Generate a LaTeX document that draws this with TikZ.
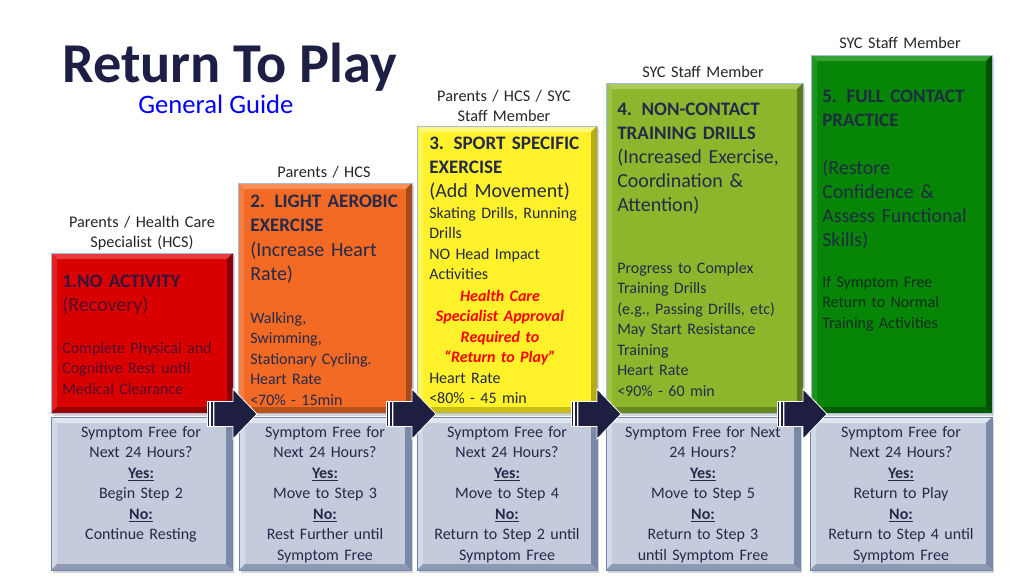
\documentclass[tikz,border=0pt]{standalone}
\usepackage{fontspec}
\setmainfont{Carlito}
\definecolor{txt}{HTML}{262A4A}
\definecolor{titlec}{HTML}{1E1F45}
\definecolor{arrowc}{HTML}{1E1F40}
\definecolor{cRed}{HTML}{D90000}
\definecolor{cRedL}{HTML}{E83A3A}
\definecolor{cRedD}{HTML}{8A0000}
\definecolor{cOr}{HTML}{F26A24}
\definecolor{cOrL}{HTML}{F68E55}
\definecolor{cOrD}{HTML}{A64A17}
\definecolor{cYe}{HTML}{FFF22B}
\definecolor{cYeL}{HTML}{FFF87A}
\definecolor{cYeD}{HTML}{B7AD12}
\definecolor{cLg}{HTML}{8DB62D}
\definecolor{cLgL}{HTML}{AACB5C}
\definecolor{cLgD}{HTML}{5C781C}
\definecolor{cDg}{HTML}{078507}
\definecolor{cDgL}{HTML}{35A235}
\definecolor{cDgD}{HTML}{034F03}
\definecolor{cGr}{HTML}{C3CBDC}
\definecolor{cGrL}{HTML}{E0E6F0}
\definecolor{cGrD}{HTML}{7C89A6}
\definecolor{edgeTop}{HTML}{A5BCDC}
\definecolor{edgeBot}{HTML}{6F86AE}
\definecolor{c1h}{HTML}{35163A}
\definecolor{c1b}{HTML}{560C2A}
\definecolor{c5h}{HTML}{1F2C40}
\definecolor{c5b}{HTML}{0F2E1C}
\tikzset{
  boxbase/.style={rectangle, inner sep=0pt, outer sep=0pt, anchor=north west, draw=none},
  hd/.style={font=\fontsize{14.3}{18.3}\selectfont\bfseries, text=txt, align=left, inner sep=0pt, anchor=base west, text width=180pt},
  sub/.style={font=\fontsize{15}{18}\selectfont, text=txt, align=left, inner sep=0pt, anchor=base west, text width=180pt},
  body/.style={font=\fontsize{12}{15.4}\selectfont, text=txt, align=left, inner sep=0pt, anchor=base west, text width=180pt},
  redtxt/.style={font=\fontsize{12}{15.4}\selectfont\bfseries\itshape, text=red, align=center, inner sep=0pt, anchor=base, text width=140pt},
  btxt/.style={font=\fontsize{12}{15.4}\selectfont, text=txt, align=center, inner sep=0pt, anchor=base, text width=140pt},
  lbl/.style={font=\fontsize{12.2}{15}\selectfont, text=black!85, align=center, inner sep=0pt, anchor=base, text width=150pt},
  arrowpart/.style={fill=arrowc, draw=white, line width=0.6pt, line join=miter},
}
\newcommand\pxbox[9]{%
  \fill[black,opacity=0.16] (#2+2,#3+3) rectangle (#4+2,#5+3);
  \node[boxbase, fill=#6, minimum width={(#4-#2)*0.75pt}, minimum height={(#5-#3)*0.75pt}] (#1) at (#2,#3) {};
  \fill[#7] (#1.north west) -- (#1.north east) -- ([shift={(-6,6)}]#1.north east) -- ([shift={(6,6)}]#1.north west) -- cycle;
  \fill[#7!55!#6] (#1.north west) -- ([shift={(6,6)}]#1.north west) -- ([shift={(6,-6)}]#1.south west) -- (#1.south west) -- cycle;
  \fill[#8] (#1.north east) -- (#1.south east) -- ([shift={(-6,-6)}]#1.south east) -- ([shift={(-6,6)}]#1.north east) -- cycle;
  \fill[#8!75!#6] (#1.south west) -- (#1.south east) -- ([shift={(-6,-6)}]#1.south east) -- ([shift={(6,-6)}]#1.south west) -- cycle;
  \draw[#9, line width=0.6pt] (#1.north west) rectangle (#1.south east);
}
\newcommand\steparrow[1]{%
  \begin{scope}[shift={(#1.south east)}]
    \path[arrowpart] (-26,-11.5) rectangle (-24,13.5);
    \path[arrowpart] (-22.5,-11.5) rectangle (-20,13.5);
    \path[arrowpart] (-19,-11.5) -- (0,-11.5) -- (0,-24) -- (24,1) -- (0,26) -- (0,13.5) -- (-19,13.5) -- cycle;
  \end{scope}
}
\begin{document}
\begin{tikzpicture}[x=0.75pt,y=-0.75pt]
\useasboundingbox (0,0) rectangle (1024,576);
\fill[white] (0,0) rectangle (1024,576);

% title
\node[font=\fontsize{42.2}{50}\selectfont\bfseries, text=titlec, anchor=base west, inner sep=0pt, text depth=0pt] (title) at (62,82) {Return To Play};
\node[font=\fontsize{20}{24}\selectfont, text=blue, anchor=base west, inner sep=0pt, text height=10pt] (subtitle) at (138,113) {General Guide};

% top boxes
\pxbox{t1}{51}{253}{233}{413}{cRed}{cRedL}{cRedD}{edgeTop}
\pxbox{t2}{238}{183}{412}{413}{cOr}{cOrL}{cOrD}{edgeTop}
\pxbox{t3}{417}{126}{597}{413}{cYe}{cYeL}{cYeD}{edgeTop}
\pxbox{t4}{606}{83}{803}{413}{cLg}{cLgL}{cLgD}{edgeTop}
\pxbox{t5}{811}{55}{992}{413}{cDg}{cDgL}{cDgD}{edgeTop}

% bottom boxes
\pxbox{b1}{51}{417}{232}{570}{cGr}{cGrL}{cGrD}{edgeBot}
\pxbox{b2}{239}{417}{411}{570}{cGr}{cGrL}{cGrD}{edgeBot}
\pxbox{b3}{417}{417}{597}{570}{cGr}{cGrL}{cGrD}{edgeBot}
\pxbox{b4}{606}{417}{800}{570}{cGr}{cGrL}{cGrD}{edgeBot}
\pxbox{b5}{810}{417}{992}{570}{cGr}{cGrL}{cGrD}{edgeBot}

% labels above
\node[lbl] (l1) at (142,227) {Parents / Health Care\\Specialist (HCS)};
\node[lbl] (l2) at (324,177) {Parents / HCS};
\node[lbl] (l3) at (504,101) {Parents / HCS / SYC\\Staff Member};
\node[lbl] (l4) at (703,77) {SYC Staff Member};
\node[lbl] (l5) at (900,48) {SYC Staff Member};

% column 1
\node[hd, text=c1h] (h1) at (62,287) {1.NO ACTIVITY};
\node[sub, text=c1b] (s1) at (62,311) {(Recovery)};
\node[body, text=c1b] (d1) at (62,353) {Complete Physical and\\Cognitive Rest until\\Medical Clearance};

% column 2
\node[hd] (h2) at (250,207) {2. LIGHT AEROBIC\\EXERCISE};
\node[sub] (s2) at (250,256) {(Increase Heart\\Rate)};
\node[body] (d2) at (250,323) {Walking,\\Swimming,\\Stationary Cycling.\\Heart Rate\\<70\% - 15min};

% column 3
\node[hd] (h3) at (429,149) {3. SPORT SPECIFIC\\EXERCISE};
\node[sub] (s3) at (429,197) {(Add Movement)};
\node[body] (d3) at (429,218) {Skating Drills, Running\\Drills\\NO Head Impact\\Activities};
\node[redtxt] (r3) at (500,301) {Health Care\\Specialist Approval\\Required to\\“Return to Play”};
\node[body] (e3) at (429,383) {Heart Rate\\<80\% - 45 min};

% column 4
\node[hd] (h4) at (617,115) {4. NON-CONTACT\\TRAINING DRILLS};
\node[sub] (s4) at (617,163) {(Increased Exercise,\\Coordination \&\\Attention)};
\node[body] (d4) at (617,273) {Progress to Complex\\Training Drills\\(e.g., Passing Drills, etc)\\May Start Resistance\\Training\\Heart Rate\\<90\% - 60 min};

% column 5
\node[hd, text=c5h] (h5) at (822,102) {5. FULL CONTACT\\PRACTICE};
\node[sub, text=c5h] (s5) at (822,174) {(Restore\\Confidence \&\\Assess Functional\\Skills)};
\node[body, text=c5b] (d5) at (822,287) {If Symptom Free\\Return to Normal\\Training Activities};

% bottom texts
\node[btxt] (q1) at (141,437) {Symptom Free for\\Next 24 Hours?\\\underline{\textbf{Yes:}}\\Begin Step 2\\\underline{\textbf{No:}}\\Continue Resting};
\node[btxt] (q2) at (325,437) {Symptom Free for\\Next 24 Hours?\\\underline{\textbf{Yes:}}\\Move to Step 3\\\underline{\textbf{No:}}\\Rest Further until\\Symptom Free};
\node[btxt] (q3) at (507,437) {Symptom Free for\\Next 24 Hours?\\\underline{\textbf{Yes:}}\\Move to Step 4\\\underline{\textbf{No:}}\\Return to Step 2 until\\Symptom Free};
\node[btxt] (q4) at (703,437) {Symptom Free for Next\\24 Hours?\\\underline{\textbf{Yes:}}\\Move to Step 5\\\underline{\textbf{No:}}\\Return to Step 3\\until Symptom Free};
\node[btxt] (q5) at (901,437) {Symptom Free for\\Next 24 Hours?\\\underline{\textbf{Yes:}}\\Return to Play\\\underline{\textbf{No:}}\\Return to Step 4 until\\Symptom Free};

% arrows
\steparrow{t1}
\steparrow{t2}
\steparrow{t3}
\steparrow{t4}
\end{tikzpicture}
\end{document}
